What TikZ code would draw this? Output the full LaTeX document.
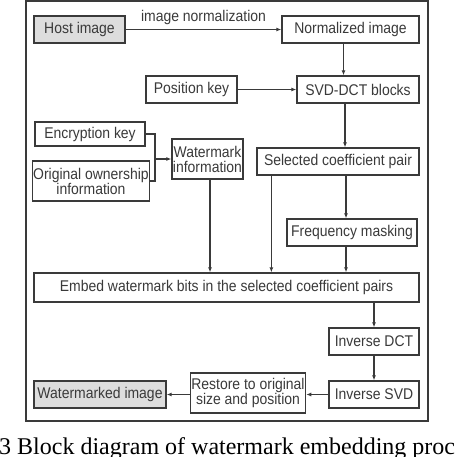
\documentclass[tikz,border=0pt]{standalone}
\usepackage{fontspec}
\setmainfont{Liberation Sans}[FakeStretch=0.9]
\newfontfamily\capfont{Liberation Serif}
\usetikzlibrary{positioning,arrows.meta,calc}
\definecolor{inkgray}{HTML}{3A3A3A}
\definecolor{boxgray}{HTML}{DDDDDD}

\begin{document}
\begin{tikzpicture}[
    x=1pt, y=-1pt,
    font=\fontsize{15.5}{15}\selectfont,
    block/.style={
        rectangle,
        draw=inkgray,
        line width=1.3pt,
        text=inkgray,
        inner sep=1pt,
        align=center,
        fill=white
    },
    shaded/.style={block, fill=boxgray},
    arrow/.style={-{Latex[length=5pt,width=4pt]}, draw=inkgray, line width=1.1pt},
    wire/.style={draw=inkgray, line width=1.1pt}
]
    \useasboundingbox (0,0) rectangle (462,456);
    \clip (0,0) rectangle (462,456);

    % Outer frame
    \draw[inkgray, line width=1.3pt] (26,1) rectangle (428,421);

    % Upper blocks
    \node[shaded, minimum width=91pt, minimum height=27pt] (host) at (79.5,29.5) {Host image};
    \node[block, minimum width=137pt, minimum height=27pt] (norm) at (350.5,29.5) {Normalized image};
    \node[block, minimum width=91pt, minimum height=27pt] (poskey) at (191.5,89.5) {Position key};
    \node[block, minimum width=122pt, minimum height=27pt] (svd) at (358,89.5) {SVD-DCT blocks};

    % Watermark inputs
    \node[block, minimum width=110pt, minimum height=24pt] (enc) at (90,134) {Encryption key};
    \node[block, minimum width=112pt, minimum height=40pt] (own) at (91,181) {Original ownership\\information};
    \node[block, minimum width=71pt, minimum height=40pt] (wm) at (207.5,159) {Watermark\\information};
    \node[block, minimum width=162pt, minimum height=27pt] (sel) at (338,161.5) {Selected coefficient pair};
    \node[block, minimum width=130pt, minimum height=27pt] (freq) at (352,232.5) {Frequency masking};

    % Embedding and output
    \node[block, minimum width=385pt, minimum height=29pt] (embed) at (226.5,287.5) {Embed watermark bits in the selected coefficient pairs};
    \node[block, minimum width=90pt, minimum height=27pt] (idct) at (374,341.5) {Inverse DCT};
    \node[block, minimum width=90pt, minimum height=27pt] (isvd) at (374,394.5) {Inverse SVD};
    \node[block, minimum width=108pt, minimum height=40pt] (restore) at (248,393) {Restore to original\\size and position};
    \node[shaded, minimum width=132pt, minimum height=27pt] (wmimg) at (100,394.5) {Watermarked image};

    % Connections
    \draw[arrow] (host) -- node[above, text=inkgray, yshift=1pt] {image normalization} (norm);
    \draw[arrow] ([xshift=-7pt]norm.south) -- ([xshift=-7pt]norm.south |- svd.north);
    \draw[arrow] (poskey) -- (svd);
    \draw[arrow] ([xshift=-13pt]svd.south) -- ([xshift=-13pt]svd.south |- sel.north);

    \coordinate (join) at (155,159);
    \draw[wire] (enc.east) -| (join) |- (own.east);
    \draw[arrow] (join) -- (wm.west);

    \draw[arrow] ([xshift=8pt]sel.south) -- ([xshift=8pt]sel.south |- freq.north);
    \draw[arrow] ([xshift=2.5pt]wm.south) -- ([xshift=2.5pt]wm.south |- embed.north);
    \draw[arrow] ([xshift=15pt]sel.south west) -- ([xshift=15pt]sel.south west |- embed.north);
    \draw[arrow] ([xshift=-6pt]freq.south) -- ([xshift=-6pt]freq.south |- embed.north);

    \draw[arrow] (embed.south -| idct) -- (idct.north);
    \draw[arrow] (idct) -- (isvd);
    \draw[arrow] (isvd.west) -- (isvd.west -| restore.east);
    \draw[arrow] (restore.west |- wmimg) -- (wmimg.east);

    % Caption (cut off by the page edge)
    \node[anchor=base west, inner sep=0pt, font=\capfont\fontsize{24}{26}\selectfont] (caption) at (-1,454) {3 Block diagram of watermark embedding proc};
\end{tikzpicture}
\end{document}
